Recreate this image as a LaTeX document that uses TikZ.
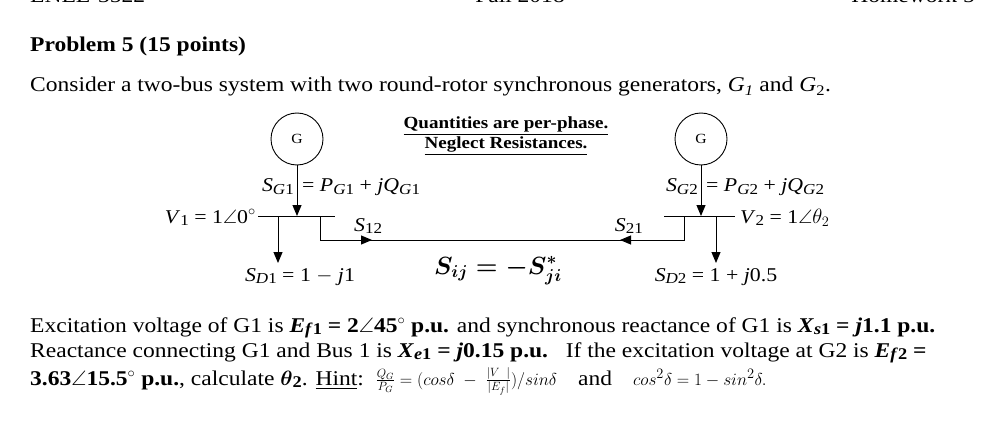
\documentclass[tikz,border=0pt]{standalone}
\usepackage{fontspec}
\setmainfont[FakeStretch=1.12]{Liberation Serif}
\usepackage{amsmath,amssymb}
\usetikzlibrary{arrows.meta}
\newcommand{\bodyf}{\fontsize{21}{24}\selectfont}
\newcommand{\sm}{\fontsize{19.5}{22}\selectfont}
\newcommand{\sbs}[1]{\raisebox{-0.25ex}{\scalebox{0.78}{#1}}}
\begin{document}
\begin{tikzpicture}[x=1pt,y=-1pt,
  txt/.style={inner sep=0pt, anchor=base west, font=\bodyf},
  lbl/.style={inner sep=0pt, font=\sm},
  gen/.style={draw, circle, minimum size=52pt, inner sep=0pt, line width=0.9pt, font=\fontsize{14}{16}\selectfont},
  wire/.style={line width=1pt},
  arr/.style={line width=1pt, -{Triangle[length=11pt,width=9pt]}}]
\useasboundingbox (0,0) rectangle (1007,425);
\clip (0,0) rectangle (1007,425);
% header
\node[txt] (h1) at (30,3) {ENEE-3522};
\node[txt, anchor=base] (h2) at (520,3) {Fall 2018};
\node[txt, anchor=base east] (h3) at (975,3) {Homework 5};
\node[txt] (p5) at (30,52) {\textbf{Problem 5 (15 points)}};
\node[txt] (intro) at (30,92) {Consider a two-bus system with two round-rotor synchronous generators, \textit{G\textsubscript{1}} and \textit{G}\textsubscript{2}.};
% note
\node[lbl, font=\fontsize{17}{20}\selectfont\bfseries] (q1) at (506,126) {\underline{Quantities are per-phase.}};
\node[lbl, font=\fontsize{17}{20}\selectfont\bfseries] (q2) at (506,146) {\underline{Neglect Resistances.}};
% generators
\node[gen] (g1) at (297,139) {G};
\node[gen] (g2) at (701,139) {G};
% buses
\coordinate (b1l) at (258,216); \coordinate (b1r) at (335,216);
\coordinate (b2l) at (664,216); \coordinate (b2r) at (735,216);
\draw[wire] (b1l) -- (b1r);
\draw[wire] (b2l) -- (b2r);
\coordinate (b1g) at (297,216); \coordinate (b2g) at (701,216);
\draw[arr] (g1.south) -- (b1g);
\draw[arr] (g2.south) -- (b2g);
% loads
\coordinate (d1t) at (278,216); \coordinate (d1b) at (278,263);
\coordinate (d2t) at (716,216); \coordinate (d2b) at (716,263);
\draw[arr] (d1t) -- (d1b);
\draw[arr] (d2t) -- (d2b);
% line
\coordinate (l1a) at (320,216); \coordinate (l1b) at (320,240);
\coordinate (l2a) at (684,216); \coordinate (l2b) at (684,240);
\coordinate (m1) at (372,240); \coordinate (m2) at (620,240);
\draw[wire] (l1a) -- (l1b) -- (l2b) -- (l2a);
\draw[arr] (l1b) -- (m1);
\draw[arr] (l2b) -- (m2);
% labels
\node[lbl, anchor=base east] (sg1) at (294,192) {\textit{S}\sbs{\textit{G}1}};
\node[lbl, anchor=base west] (pg1) at (302,192) {= \textit{P}\sbs{\textit{G}1} + \textit{jQ}\sbs{\textit{G}1}};
\node[lbl, anchor=base east] (sg2) at (698,192) {\textit{S}\sbs{\textit{G}2}};
\node[lbl, anchor=base west] (pg2) at (706,192) {= \textit{P}\sbs{\textit{G}2} + \textit{jQ}\sbs{\textit{G}2}};
\node[lbl, anchor=base east] (v1) at (256,223) {\textit{V}\sbs{1} = 1$\angle$0\textsuperscript{$\circ$}};
\node[lbl, anchor=base west] (v2) at (740,223) {\textit{V}\sbs{2} = 1$\angle\theta_2$};
\node[lbl, anchor=base west] (s12) at (354,231) {\textit{S}\sbs{12}};
\node[lbl, anchor=base east] (s21) at (643,231) {\textit{S}\sbs{21}};
\node[lbl, anchor=base] (sd1) at (300,281) {\textit{S}\sbs{\textit{D}1} = 1 $-$ \textit{j}1};
\node[lbl, anchor=base] (sd2) at (716,281) {\textit{S}\sbs{\textit{D}2} = 1 + \textit{j}0.5};
\node[lbl, anchor=base] (sij) at (498,274) {\fontsize{24}{26}\selectfont$\boldsymbol{S_{ij}=-S_{ji}^{*}}$};
% bottom text
\node[txt] (t1) at (30,332) {Excitation voltage of G1 is \textbf{\textit{E}\sbs{\textit{f}1} = 2$\boldsymbol{\angle}$45\textsuperscript{$\circ$} p.u.} and synchronous reactance of G1 is \textbf{\textit{X}\sbs{\textit{s}1} = \textit{j}1.1 p.u.}};
\node[txt] (t2) at (30,357) {Reactance connecting G1 and Bus 1 is \textbf{\textit{X}\sbs{\textit{e}1} = \textit{j}0.15 p.u.}\ \ \ If the excitation voltage at G2 is \textbf{\textit{E}\sbs{\textit{f}2} =}};
\node[txt] (t3) at (30,385) {\textbf{3.63$\boldsymbol{\angle}$15.5\textsuperscript{$\circ$} p.u.}, calculate \textbf{$\boldsymbol{\theta}$\sbs{2}}. \underline{Hint}:\ \ {\fontsize{18}{20}\selectfont$\frac{Q_G}{P_G}=(cos\delta\;-\;\frac{|V\ \,|}{|E_f|})/sin\delta$}\quad and\quad {\fontsize{19}{20}\selectfont$cos^2\delta=1-sin^2\delta.$}};
\end{tikzpicture}
\end{document}
